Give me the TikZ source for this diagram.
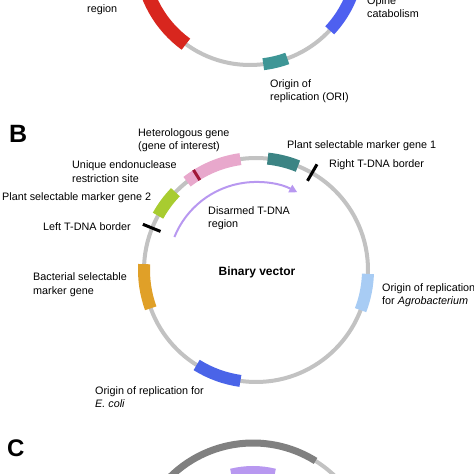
\documentclass[tikz,border=0pt]{standalone}
\usepackage{fontspec}
\setmainfont{Liberation Sans}
\usetikzlibrary{arrows.meta}
\definecolor{ringgray}{HTML}{C2C2C2}
\definecolor{darkring}{HTML}{808080}
\definecolor{vired}{HTML}{D8261E}
\definecolor{oriteal}{HTML}{3E9696}
\definecolor{opineblue}{HTML}{4E60F0}
\definecolor{bactorange}{HTML}{E0A028}
\definecolor{agroblue}{HTML}{A8CCF4}
\definecolor{coliblue}{HTML}{4A64E8}
\definecolor{markgreen}{HTML}{A8CC30}
\definecolor{genepink}{HTML}{E8A8CC}
\definecolor{sitered}{HTML}{A01838}
\definecolor{markteal}{HTML}{3C8484}
\definecolor{tdnapurple}{HTML}{B898F0}

\begin{document}
\begin{tikzpicture}[x=1pt,y=1pt]
    \tikzstyle{lbl}=[inner sep=0pt,anchor=west,align=left,font=\fontsize{10.8}{13.5}\selectfont]
    \tikzstyle{panel}=[inner sep=0pt,anchor=base west,font=\fontsize{25}{25}\selectfont\bfseries]
    \tikzstyle{ring}=[draw=ringgray,line width=4pt]
    \tikzstyle{seg}=[line width=12pt]
    \tikzstyle{border}=[draw=black,line width=3pt]
    \tikzstyle{tdna}=[draw=tdnapurple,line width=2pt,-{Triangle[length=8pt,width=8pt]}]

    \useasboundingbox (0,0) rectangle (474,474);
    \clip (0,0) rectangle (474,474);

    \begin{scope}[shift={(250,518)}]
    \draw[ring] (0,0) circle (109);
    \draw[seg,vired,line width=14pt] (185:109) arc (185:234:109);
    \draw[seg,oriteal] (277:109) arc (277:290:109);
    \draw[seg,opineblue] (317:109) arc (317:350:109);
    \end{scope}

    \node[lbl] (virlbl) at (87,464) {region};
    \node[lbl] (opinelbl) at (367,467) {Opine\\catabolism};
    \node[lbl] (orilbl) at (270,383) {Origin of\\replication (ORI)};

    \node[panel] (panelB) at (9,331) {B};

    \begin{scope}[shift={(256,204)}]
    \draw[ring] (0,0) circle (112);
    \draw[seg,bactorange] (177:112) arc (177:200:112);
    \draw[seg,agroblue] (-21:112) arc (-21:-2:112);
    \draw[seg,coliblue] (238:112) arc (238:262:112);
    \draw[seg,markgreen] (136:112) arc (136:151:112);
    \draw[seg,genepink] (98:112) arc (98:128:112);
    \draw[sitered,line width=3pt] (122:106) -- (122:118);
    \draw[seg,markteal] (68:112) arc (68:84:112);
    \draw[border] (158:103) -- (158:122);
    \draw[border] (60:103) -- (60:122);
    \draw[tdna] (158:88) arc (158:62:88);
    \end{scope}

    \node[inner sep=0pt,font=\fontsize{12}{14}\selectfont\bfseries] (binary) at (257,202) {Binary vector};
    \node[lbl] (hetlbl) at (138,334) {Heterologous gene\\(gene of interest)};
    \node[lbl] (sitelbl) at (72,302.5) {Unique endonuclease\\restriction site};
    \node[lbl] (mark2lbl) at (2,276) {Plant selectable marker gene 2};
    \node[lbl] (leftlbl) at (43,247) {Left T-DNA border};
    \node[lbl] (mark1lbl) at (287,328) {Plant selectable marker gene 1};
    \node[lbl] (rightlbl) at (329,309) {Right T-DNA border};
    \node[lbl,font=\fontsize{10.8}{12.5}\selectfont] (tdnalbl) at (208,256) {Disarmed T-DNA\\region};
    \node[lbl] (bactlbl) at (33,189.5) {Bacterial selectable\\marker gene};
    \node[lbl] (agrolbl) at (382,179) {Origin of replication\\for \textit{Agrobacterium}};
    \node[lbl] (colilbl) at (95,77) {Origin of replication for\\\textit{E. coli}};

    \node[panel,font=\fontsize{24}{24}\selectfont\bfseries] (panelC) at (7,17) {C};

    \begin{scope}[shift={(253,-87)}]
    \draw[ring] (0,0) circle (118);
    \draw[draw=darkring,line width=7pt] (58:118) arc (58:140:118);
    \draw[draw=tdnapurple,line width=8pt] (76:91) arc (76:104:91);
    \end{scope}
\end{tikzpicture}
\end{document}
